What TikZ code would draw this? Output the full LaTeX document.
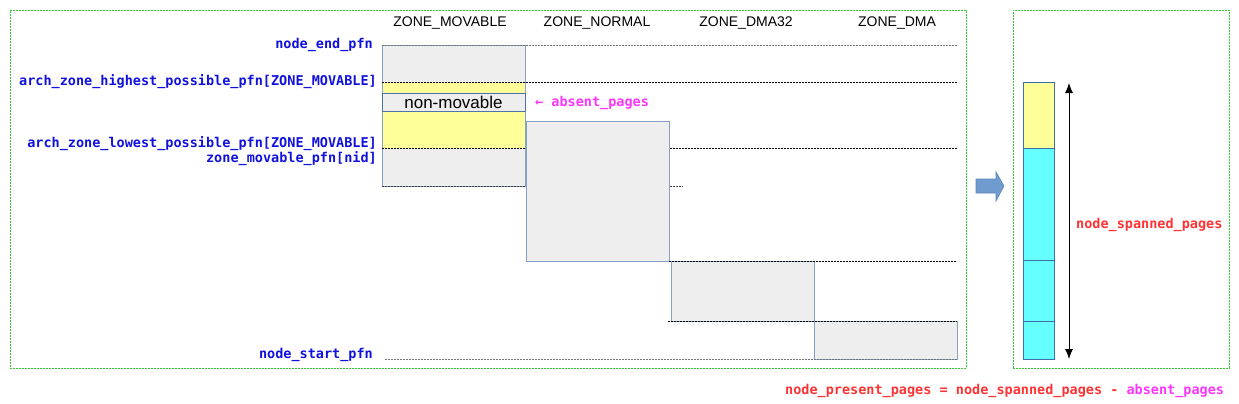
\documentclass[tikz,border=0pt]{standalone}
\usepackage{fontspec}
\setmainfont{Liberation Sans}
\newfontfamily\codefont{DejaVu Sans Mono}
\usetikzlibrary{positioning,arrows.meta}

\definecolor{zonegray}{HTML}{EEEEEE}
\definecolor{zoneline}{HTML}{86A0C6}
\definecolor{nmline}{HTML}{4F72A8}
\definecolor{pinyellow}{HTML}{FFFF99}
\definecolor{pagecyan}{HTML}{66FFFF}
\definecolor{pageline}{HTML}{3F6FB0}
\definecolor{framegreen}{HTML}{33CC33}
\definecolor{pfnblue}{HTML}{1111DD}
\definecolor{pagered}{HTML}{FF3333}
\definecolor{absentpink}{HTML}{FF33FF}
\definecolor{arrowblue}{HTML}{6F9BCF}
\definecolor{arrowline}{HTML}{5A86BE}

\tikzset{
  zonebox/.style={draw=zoneline, fill=zonegray, line width=0.8pt, inner sep=0pt, outer sep=0pt, anchor=north west},
  zonetitle/.style={font=\fontsize{14}{16}\selectfont},
  pfnlabel/.style={text=pfnblue, anchor=east, inner sep=0pt, font=\codefont\bfseries\fontsize{13.5}{15}\selectfont},
  pfnline/.style={dash pattern=on 2pt off 1pt, line width=0.8pt},
  frame/.style={draw=framegreen, dash pattern=on 2pt off 1pt, line width=0.8pt, inner sep=0pt, anchor=north west},
  pagebox/.style={draw=pageline, line width=0.8pt, minimum width=31pt, inner sep=0pt, outer sep=0pt}
}

\begin{document}
\begin{tikzpicture}[x=1pt,y=-1pt]
  \useasboundingbox (0,0) rectangle (1239,404);

  % frames
  \node[frame, minimum width=956pt, minimum height=358pt] (zoneframe) at (10,10) {};
  \node[frame, minimum width=216pt, minimum height=358pt] (pageframe) at (1013,10) {};

  % zone titles
  \node[zonetitle] (tmovable) at (450,23) {ZONE\_MOVABLE};
  \node[zonetitle] (tnormal) at (597,23) {ZONE\_NORMAL};
  \node[zonetitle] (tdmathree) at (746,23) {ZONE\_DMA32};
  \node[zonetitle] (tdma) at (897,23) {ZONE\_DMA};

  % movable zone
  \node[zonebox, minimum width=143pt, minimum height=141pt] (movable) at (382,45) {};
  \fill[pinyellow] (382.4,82.7) rectangle (524.6,148);
  \coordinate (pinnedtop) at (382,82.7);
  \coordinate (pinnedbot) at (382,148);
  \draw[zoneline, line width=0.8pt] (movable.north west) rectangle (movable.south east);
  \node[zonebox, draw=nmline, minimum width=143pt, minimum height=18pt, font=\fontsize{17}{18}\selectfont] (nonmov) at (382,93) {non-movable};

  % pfn levels (upper)
  \coordinate (endR) at (957,45);
  \coordinate (movEnd) at (683,186);
  \coordinate (startL) at (385,359);
  \draw[pfnline, gray!90!black] (movable.north west) -- (endR);
  \draw[pfnline] (pinnedtop) -- (pinnedtop -| endR);
  \draw[pfnline] (pinnedbot) -- (pinnedbot -| endR);
  \draw[pfnline, black!75] (movable.south west) -- (movable.south west -| movEnd);

  % other zones
  \node[zonebox, minimum width=143pt, minimum height=140pt] (normal) at (526,121) {};
  \node[zonebox, minimum width=143pt, minimum height=60pt] (dmathree) at (671,261) {};
  \node[zonebox, minimum width=143pt, minimum height=38pt] (dma) at (814,321) {};

  % pfn levels (lower)
  \draw[pfnline] (normal.south east) -- (normal.south east -| endR);
  \draw[pfnline] (dmathree.south west) ++(-3,0) -- (dmathree.south west -| endR);
  \draw[pfnline, gray!90!black] (startL) -- (startL -| endR);

  % pfn labels
  \node[pfnlabel] (endpfn) at (373,45) {node\_end\_pfn};
  \node[pfnlabel] (highpfn) at (377,82) {arch\_zone\_highest\_possible\_pfn[ZONE\_MOVABLE]};
  \node[pfnlabel] (lowpfn) at (377,144) {arch\_zone\_lowest\_possible\_pfn[ZONE\_MOVABLE]};
  \node[pfnlabel] (movpfn) at (377,159) {zone\_movable\_pfn[nid]};
  \node[pfnlabel] (startpfn) at (373,355) {node\_start\_pfn};
  \node[pfnlabel, anchor=west, text=absentpink] (absent) at (535,103) {← absent\_pages};

  % arrow to page view
  \filldraw[fill=arrowblue, draw=arrowline, line width=0.6pt]
    (976,179) -- (996,179) -- (996,172) -- (1004,186) -- (996,201) -- (996,193) -- (976,193) -- cycle;

  % page column
  \node[pagebox, fill=pinyellow, minimum height=66pt, anchor=north west] (colpin) at (1023,82) {};
  \node[pagebox, fill=pagecyan, minimum height=112pt, below=0pt of colpin] (colnormal) {};
  \node[pagebox, fill=pagecyan, minimum height=61pt, below=0pt of colnormal] (coldmathree) {};
  \node[pagebox, fill=pagecyan, minimum height=38pt, below=0pt of coldmathree] (coldma) {};

  \coordinate (spanTop) at (1069,83);
  \coordinate (spanBot) at (1069,359);
  \draw[{Latex[length=10pt,width=8pt]}-{Latex[length=10pt,width=8pt]}, line width=0.8pt] (spanTop) -- (spanBot);
  \node[pfnlabel, anchor=west, text=pagered] (spanned) at (1076,225) {node\_spanned\_pages};

  \node[pfnlabel, anchor=west, text=pagered] (present) at (785,391) {node\_present\_pages = node\_spanned\_pages - \textcolor{absentpink}{absent\_pages}};
\end{tikzpicture}
\end{document}
